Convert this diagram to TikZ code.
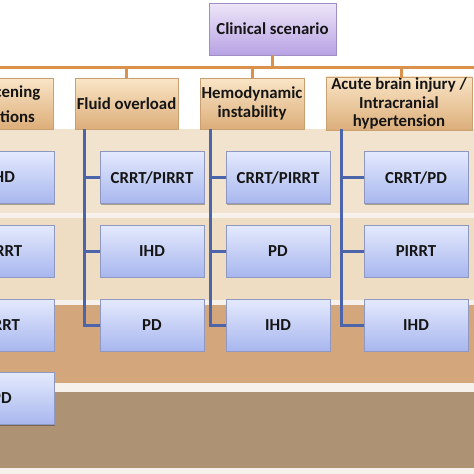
\documentclass[tikz,border=0pt]{standalone}
\usepackage{fontspec}
\setmainfont{Carlito}
\usetikzlibrary{shadows}
\definecolor{bandA}{HTML}{F2E3CE}
\definecolor{bandB}{HTML}{EEDCC3}
\definecolor{bandC}{HTML}{D4A67C}
\definecolor{bandD}{HTML}{AE9274}
\definecolor{stripe}{HTML}{F6F1EA}
\definecolor{orln}{HTML}{D9914C}
\definecolor{blln}{HTML}{4B64AA}
\definecolor{txt}{HTML}{151515}
\definecolor{scTop}{HTML}{EEE6F9}
\definecolor{scBot}{HTML}{B7A2E3}
\definecolor{scDraw}{HTML}{A08DC6}
\definecolor{ctTop}{HTML}{FAE5C6}
\definecolor{ctBot}{HTML}{DCAE7A}
\definecolor{ctDraw}{HTML}{C9A072}
\definecolor{opTop}{HTML}{E4EAFD}
\definecolor{opBot}{HTML}{A8B6EE}
\definecolor{opDraw}{HTML}{8E98C0}
\tikzset{
  boxbase/.style={rectangle, inner sep=1pt, align=center, text=txt,
    font=\fontsize{16.8}{19}\selectfont\bfseries,
    drop shadow={shadow xshift=1.2pt, shadow yshift=-1.2pt, opacity=0.3, fill=black}},
  scenbox/.style={boxbase, top color=scTop, bottom color=scBot, draw=scDraw,
    minimum width=127pt, minimum height=52pt},
  catbox/.style={boxbase, top color=ctTop, bottom color=ctBot, draw=ctDraw,
    minimum height=51pt},
  optbox/.style={boxbase, top color=opTop, bottom color=opBot, draw=opDraw,
    minimum width=104pt, minimum height=52pt},
  orline/.style={draw=orln, line width=3pt},
  blline/.style={draw=blln, line width=3pt},
}
\begin{document}
\begin{tikzpicture}[x=1pt, y=-1pt]
\useasboundingbox (0,0) rectangle (474,474);
\clip (0,0) rectangle (474,474);
\fill[white] (0,0) rectangle (474,474);
% background bands
\fill[bandA] (-10,129) rectangle (484,213);
\fill[stripe] (-10,213) rectangle (484,218);
\fill[bandB] (-10,218) rectangle (484,300);
\fill[stripe] (-10,300) rectangle (484,305);
\fill[bandC] (-10,305) rectangle (484,383);
\fill[stripe] (-10,383) rectangle (484,392);
\fill[bandD] (-10,392) rectangle (484,468);
\fill[stripe] (-10,468) rectangle (484,474);

% bus coordinates
\coordinate (busL) at (-10,67);
\coordinate (busR) at (484,67);

% root
\node[scenbox] (scen) at (272.5,29) {Clinical scenario};

% categories
\node[catbox, minimum width=153pt] (l0) at (-23.5,103.5) {};
\node[font=\fontsize{16.8}{25}\selectfont\bfseries, text=txt, align=center, inner sep=0pt] (l0t) at (17.5,104.5) {cening\\tions};
\node[catbox, minimum width=103pt] (l1) at (126.5,103.5) {Fluid overload};
\node[catbox, minimum width=104pt] (l2) at (252,103.5) {Hemodynamic\\instability};
\node[catbox, minimum width=146pt, font=\fontsize{16.8}{18.5}\selectfont\bfseries] (l3) at (399,103.5) {Acute brain injury /\\Intracranial\\hypertension};

% options
\node[optbox] (b01) at (2,177.5) {IHD};
\node[optbox] (b02) at (2,251) {PIRRT};
\node[optbox] (b03) at (2,325) {CRRT};
\node[optbox] (b04) at (2,398.5) {PD};

\node[optbox] (b11) at (152,177.5) {CRRT/PIRRT};
\node[optbox] (b12) at (152,251) {IHD};
\node[optbox] (b13) at (152,325) {PD};

\node[optbox] (b21) at (278,177.5) {CRRT/PIRRT};
\node[optbox] (b22) at (278,251) {PD};
\node[optbox] (b23) at (278,325) {IHD};

\node[optbox] (b31) at (416,177.5) {CRRT/PD};
\node[optbox] (b32) at (416,251) {PIRRT};
\node[optbox] (b33) at (416,325) {IHD};

% orange connectors
\draw[orline] (busL) -- (busR);
\draw[orline] (scen.south) -- (scen.south |- busL);
\draw[orline] (l0.north |- busL) -- (l0.north);
\draw[orline] (l1.north |- busL) -- (l1.north);
\draw[orline] (l2.north |- busL) -- (l2.north);
\draw[orline] (401,67) -- (401,78);

% blue trunks
\coordinate (v0) at (-66,129);
\coordinate (v1) at (84,129);
\coordinate (v2) at (210,129);
\coordinate (v3) at (341.5,129);
\draw[blline] (v0) |- (b04.west);
\draw[blline] (v0 |- b01) -- (b01.west);
\draw[blline] (v0 |- b02) -- (b02.west);
\draw[blline] (v0 |- b03) -- (b03.west);
\draw[blline] (v1) |- (b13.west);
\draw[blline] (v1 |- b11) -- (b11.west);
\draw[blline] (v1 |- b12) -- (b12.west);
\draw[blline] (v2) |- (b23.west);
\draw[blline] (v2 |- b21) -- (b21.west);
\draw[blline] (v2 |- b22) -- (b22.west);
\draw[blline] (v3) |- (b33.west);
\draw[blline] (v3 |- b31) -- (b31.west);
\draw[blline] (v3 |- b32) -- (b32.west);
\end{tikzpicture}
\end{document}
